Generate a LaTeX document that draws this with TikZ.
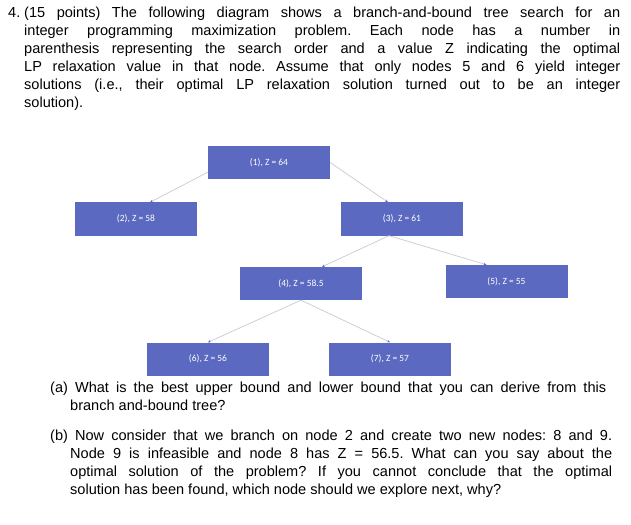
\documentclass[tikz,border=0pt]{standalone}
\usepackage{fontspec}
\setmainfont{Liberation Sans}
\newfontfamily\boxfont{Carlito}
\usetikzlibrary{arrows.meta}
\definecolor{boxblue}{HTML}{5B6AC0}
\definecolor{edgegray}{HTML}{C9CAD6}
\tikzset{
  tnode/.style={rectangle, fill=boxblue, text=white, minimum width=122bp, minimum height=33bp, inner sep=0pt, font=\boxfont\fontsize{9.5}{11}\selectfont},
  tedge/.style={draw=edgegray, line width=0.7bp, -{Stealth[length=3bp,width=2.5bp,color=boxblue]}},
  txt/.style={anchor=base west, inner sep=0pt, font=\fontsize{14.6}{16}\selectfont}
}
\frenchspacing
\newcommand{\jl}[2]{\makebox[#1bp][s]{#2}}
\begin{document}
\begin{tikzpicture}[x=1bp,y=-1bp]
\useasboundingbox[fill=white] (0,0) rectangle (631,525);
\node[txt] (t0) at (8,18) {4.};
\node[txt] (t1) at (24,18) {\jl{596}{(15 points) The following diagram shows a branch-and-bound tree search for an}};
\node[txt] (t2) at (24,36) {\jl{596}{integer programming maximization problem. Each node has a number in}};
\node[txt] (t3) at (24,54) {\jl{596}{parenthesis representing the search order and a value Z indicating the optimal}};
\node[txt] (t4) at (24,72) {\jl{596}{LP relaxation value in that node. Assume that only nodes 5 and 6 yield integer}};
\node[txt] (t5) at (24,90) {\jl{596}{solutions (i.e., their optimal LP relaxation solution turned out to be an integer}};
\node[txt] (t6) at (24,108) {solution).};

\node[tnode] (n1) at (269,162.5) {(1), Z = 64};
\node[tnode] (n2) at (136,219) {(2), Z = 58};
\node[tnode] (n3) at (402,219) {(3), Z = 61};
\node[tnode] (n4) at (301,283.5) {(4), Z = 58.5};
\node[tnode] (n5) at (506.5,281.5) {(5), Z = 55};
\node[tnode] (n6) at (208,359) {(6), Z = 56};
\node[tnode] (n7) at (390,359) {(7), Z = 57};

\draw[tedge] (n1.189) -- ([xshift=14bp]n2.north);
\draw[tedge] (n1.east) -- ([xshift=-14bp]n3.north);
\draw[tedge] ([xshift=-13bp]n3.south) -- ([xshift=21bp]n4.north);
\draw[tedge] ([xshift=-13bp]n3.south) -- ([xshift=-20bp]n5.north);
\draw[tedge] (n4.south) -- (n6.north);
\draw[tedge] (n4.south) -- (n7.north);

\node[txt] (a1) at (50,392) {\jl{556}{(a) What is the best upper bound and lower bound that you can derive from this}};
\node[txt] (a2) at (70,410) {branch and-bound tree?};
\node[txt] (b1) at (50,440) {\jl{562}{(b) Now consider that we branch on node 2 and create two new nodes: 8 and 9.}};
\node[txt] (b2) at (70,458) {\jl{542}{Node 9 is infeasible and node 8 has Z = 56.5. What can you say about the}};
\node[txt] (b3) at (70,476) {\jl{542}{optimal solution of the problem? If you cannot conclude that the optimal}};
\node[txt] (b4) at (70,494) {solution has been found, which node should we explore next, why?};
\end{tikzpicture}
\end{document}
